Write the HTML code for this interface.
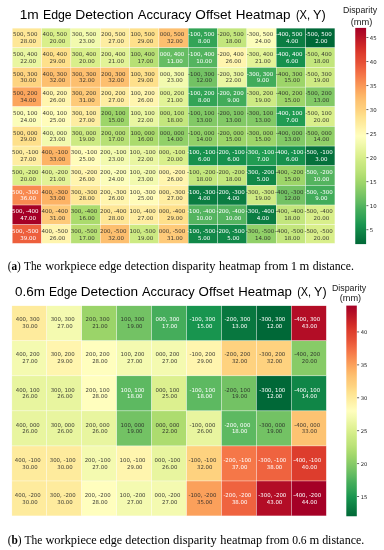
<!DOCTYPE html>
<html lang="en"><head><meta charset="utf-8"><title>Edge Detection Accuracy Offset Heatmaps</title>
<style>html,body{margin:0;padding:0;background:#fff}svg{display:block;filter:blur(0.3px)}</style></head>
<body>
<svg width="384" height="550" viewBox="0 0 384 550">
<rect width="384" height="550" fill="#fff"/>
<g font-family="'Liberation Sans',sans-serif" fill="#000" font-size="12.6"><text transform="translate(19.74,18.65) scale(1.0894,1)">1m</text> <text transform="translate(42.94,18.65) scale(0.9792,1)">Edge</text> <text transform="translate(75.17,18.65) scale(1.0992,1)">Detection</text> <text transform="translate(137.7,18.65) scale(1.0364,1)">Accuracy</text> <text transform="translate(195.36,18.65) scale(1.0781,1)">Offset</text> <text transform="translate(235.75,18.65) scale(1.0699,1)">Heatmap</text> <text transform="translate(295.88,18.65) scale(0.8855,1)">(X,</text> <text transform="translate(313.1,18.65) scale(1.0127,1)">Y)</text></g>
<g font-family="'Liberation Sans',sans-serif" fill="#000" font-size="12.3"><text transform="translate(15.08,296) scale(1.0941,1)">0.6m</text> <text transform="translate(49.05,296) scale(0.9840,1)">Edge</text> <text transform="translate(80.67,296) scale(1.1046,1)">Detection</text> <text transform="translate(142.02,296) scale(1.0415,1)">Accuracy</text> <text transform="translate(198.59,296) scale(1.0834,1)">Offset</text> <text transform="translate(238.2,296) scale(1.0752,1)">Heatmap</text> <text transform="translate(297.19,296) scale(0.8898,1)">(X,</text> <text transform="translate(314.09,296) scale(1.0177,1)">Y)</text></g>
<g font-family="'Liberation Sans',sans-serif" fill="#1a1a1a" font-size="8.6"><text transform="translate(342.91,12.9) scale(1.0220,1)">Disparity</text></g>
<g font-family="'Liberation Sans',sans-serif" fill="#1a1a1a" font-size="8.6"><text transform="translate(350.66,24.6) scale(1.0829,1)">(mm)</text></g>
<g font-family="'Liberation Sans',sans-serif" fill="#1a1a1a" font-size="8.4"><text transform="translate(331.91,290.7) scale(1.0526,1)">Disparity</text></g>
<g font-family="'Liberation Sans',sans-serif" fill="#1a1a1a" font-size="8.4"><text transform="translate(339.67,301.3) scale(1.0980,1)">(mm)</text></g>
<g font-family="'Liberation Serif',serif" fill="#000" font-size="11.7"><text transform="translate(7.65,270.2) scale(0.9647,1)">(<tspan font-weight="bold">a</tspan>)</text> <text transform="translate(24.07,270.2) scale(0.9577,1)">The</text> <text transform="translate(45.25,270.2) scale(1.0491,1)">workpiece</text> <text transform="translate(98.88,270.2) scale(1.0250,1)">edge</text> <text transform="translate(124.62,270.2) scale(1.0349,1)">detection</text> <text transform="translate(172.11,270.2) scale(1.0597,1)">disparity</text> <text transform="translate(219.1,270.2) scale(1.0518,1)">heatmap</text> <text transform="translate(264.01,270.2) scale(1.0617,1)">from</text> <text transform="translate(290.76,270.2) scale(1.0826,1)">1</text> <text transform="translate(299.4,270.2) scale(1.0712,1)">m</text> <text transform="translate(312.63,270.2) scale(1.0022,1)">distance.</text></g>
<g font-family="'Liberation Serif',serif" fill="#000" font-size="11.7"><text transform="translate(7.64,543.8) scale(0.9770,1)">(<tspan font-weight="bold">b</tspan>)</text> <text transform="translate(24.62,543.8) scale(0.9803,1)">The</text> <text transform="translate(45.46,543.8) scale(1.0551,1)">workpiece</text> <text transform="translate(99.39,543.8) scale(1.0308,1)">edge</text> <text transform="translate(125.29,543.8) scale(1.0408,1)">detection</text> <text transform="translate(173.05,543.8) scale(1.0657,1)">disparity</text> <text transform="translate(220.3,543.8) scale(1.0578,1)">heatmap</text> <text transform="translate(265.61,543.8) scale(1.0438,1)">from</text> <text transform="translate(292.14,543.8) scale(0.9946,1)">0.6</text> <text transform="translate(309.4,543.8) scale(1.0712,1)">m</text> <text transform="translate(322.13,543.8) scale(1.0209,1)">distance.</text></g>
<clipPath id="cg1"><rect x="0" y="0" width="384" height="243.2"/></clipPath>
<g clip-path="url(#cg1)" stroke="#fff" stroke-opacity="0.8" stroke-width="0.38"><rect x="12.25" y="28.15" width="29.33" height="19.65" fill="#fee797"/>
<rect x="41.58" y="28.15" width="29.33" height="19.65" fill="#d9ef8b"/>
<rect x="70.91" y="28.15" width="29.33" height="19.65" fill="#f2faae"/>
<rect x="100.25" y="28.15" width="29.33" height="19.65" fill="#feeda1"/>
<rect x="129.58" y="28.15" width="29.33" height="19.65" fill="#fee08b"/>
<rect x="158.91" y="28.15" width="29.33" height="19.65" fill="#fdbf6f"/>
<rect x="188.24" y="28.15" width="29.33" height="19.65" fill="#33a456"/>
<rect x="217.57" y="28.15" width="29.33" height="19.65" fill="#c3e67d"/>
<rect x="246.9" y="28.15" width="29.33" height="19.65" fill="#fbfdba"/>
<rect x="276.24" y="28.15" width="29.33" height="19.65" fill="#0b7d42"/>
<rect x="305.57" y="28.15" width="29.33" height="19.65" fill="#006837"/>
<rect x="12.25" y="47.8" width="29.33" height="19.65" fill="#e9f6a1"/>
<rect x="41.58" y="47.8" width="29.33" height="19.65" fill="#fee08b"/>
<rect x="70.91" y="47.8" width="29.33" height="19.65" fill="#d9ef8b"/>
<rect x="100.25" y="47.8" width="29.33" height="19.65" fill="#e2f397"/>
<rect x="129.58" y="47.8" width="29.33" height="19.65" fill="#b7e075"/>
<rect x="158.91" y="47.8" width="29.33" height="19.65" fill="#66bd63"/>
<rect x="188.24" y="47.8" width="29.33" height="19.65" fill="#54b45f"/>
<rect x="217.57" y="47.8" width="29.33" height="19.65" fill="#fff5ae"/>
<rect x="246.9" y="47.8" width="29.33" height="19.65" fill="#e2f397"/>
<rect x="276.24" y="47.8" width="29.33" height="19.65" fill="#16914d"/>
<rect x="305.57" y="47.8" width="29.33" height="19.65" fill="#c3e67d"/>
<rect x="12.25" y="67.46" width="29.33" height="19.65" fill="#fed481"/>
<rect x="41.58" y="67.46" width="29.33" height="19.65" fill="#fdbf6f"/>
<rect x="70.91" y="67.46" width="29.33" height="19.65" fill="#fdbf6f"/>
<rect x="100.25" y="67.46" width="29.33" height="19.65" fill="#fdbf6f"/>
<rect x="129.58" y="67.46" width="29.33" height="19.65" fill="#fee08b"/>
<rect x="158.91" y="67.46" width="29.33" height="19.65" fill="#f2faae"/>
<rect x="188.24" y="67.46" width="29.33" height="19.65" fill="#73c264"/>
<rect x="217.57" y="67.46" width="29.33" height="19.65" fill="#e9f6a1"/>
<rect x="246.9" y="67.46" width="29.33" height="19.65" fill="#42ac5a"/>
<rect x="276.24" y="67.46" width="29.33" height="19.65" fill="#9dd569"/>
<rect x="305.57" y="67.46" width="29.33" height="19.65" fill="#cdea83"/>
<rect x="12.25" y="87.11" width="29.33" height="19.65" fill="#fca55d"/>
<rect x="41.58" y="87.11" width="29.33" height="19.65" fill="#fff5ae"/>
<rect x="70.91" y="87.11" width="29.33" height="19.65" fill="#feca79"/>
<rect x="100.25" y="87.11" width="29.33" height="19.65" fill="#feeda1"/>
<rect x="129.58" y="87.11" width="29.33" height="19.65" fill="#fff5ae"/>
<rect x="158.91" y="87.11" width="29.33" height="19.65" fill="#e2f397"/>
<rect x="188.24" y="87.11" width="29.33" height="19.65" fill="#33a456"/>
<rect x="217.57" y="87.11" width="29.33" height="19.65" fill="#42ac5a"/>
<rect x="246.9" y="87.11" width="29.33" height="19.65" fill="#cdea83"/>
<rect x="276.24" y="87.11" width="29.33" height="19.65" fill="#9dd569"/>
<rect x="305.57" y="87.11" width="29.33" height="19.65" fill="#82c966"/>
<rect x="12.25" y="106.77" width="29.33" height="19.65" fill="#fbfdba"/>
<rect x="41.58" y="106.77" width="29.33" height="19.65" fill="#fffcba"/>
<rect x="70.91" y="106.77" width="29.33" height="19.65" fill="#feeda1"/>
<rect x="100.25" y="106.77" width="29.33" height="19.65" fill="#9dd569"/>
<rect x="129.58" y="106.77" width="29.33" height="19.65" fill="#e9f6a1"/>
<rect x="158.91" y="106.77" width="29.33" height="19.65" fill="#c3e67d"/>
<rect x="188.24" y="106.77" width="29.33" height="19.65" fill="#82c966"/>
<rect x="217.57" y="106.77" width="29.33" height="19.65" fill="#82c966"/>
<rect x="246.9" y="106.77" width="29.33" height="19.65" fill="#82c966"/>
<rect x="276.24" y="106.77" width="29.33" height="19.65" fill="#219c52"/>
<rect x="305.57" y="106.77" width="29.33" height="19.65" fill="#d9ef8b"/>
<rect x="12.25" y="126.42" width="29.33" height="19.65" fill="#fee08b"/>
<rect x="41.58" y="126.42" width="29.33" height="19.65" fill="#f2faae"/>
<rect x="70.91" y="126.42" width="29.33" height="19.65" fill="#cdea83"/>
<rect x="100.25" y="126.42" width="29.33" height="19.65" fill="#b7e075"/>
<rect x="129.58" y="126.42" width="29.33" height="19.65" fill="#abdb6d"/>
<rect x="158.91" y="126.42" width="29.33" height="19.65" fill="#91d068"/>
<rect x="188.24" y="126.42" width="29.33" height="19.65" fill="#91d068"/>
<rect x="217.57" y="126.42" width="29.33" height="19.65" fill="#9dd569"/>
<rect x="246.9" y="126.42" width="29.33" height="19.65" fill="#9dd569"/>
<rect x="276.24" y="126.42" width="29.33" height="19.65" fill="#82c966"/>
<rect x="305.57" y="126.42" width="29.33" height="19.65" fill="#91d068"/>
<rect x="12.25" y="146.08" width="29.33" height="19.65" fill="#feeda1"/>
<rect x="41.58" y="146.08" width="29.33" height="19.65" fill="#fdb365"/>
<rect x="70.91" y="146.08" width="29.33" height="19.65" fill="#fffcba"/>
<rect x="100.25" y="146.08" width="29.33" height="19.65" fill="#f2faae"/>
<rect x="129.58" y="146.08" width="29.33" height="19.65" fill="#e9f6a1"/>
<rect x="158.91" y="146.08" width="29.33" height="19.65" fill="#d9ef8b"/>
<rect x="188.24" y="146.08" width="29.33" height="19.65" fill="#16914d"/>
<rect x="217.57" y="146.08" width="29.33" height="19.65" fill="#16914d"/>
<rect x="246.9" y="146.08" width="29.33" height="19.65" fill="#219c52"/>
<rect x="276.24" y="146.08" width="29.33" height="19.65" fill="#16914d"/>
<rect x="305.57" y="146.08" width="29.33" height="19.65" fill="#05713c"/>
<rect x="12.25" y="165.73" width="29.33" height="19.65" fill="#d9ef8b"/>
<rect x="41.58" y="165.73" width="29.33" height="19.65" fill="#e2f397"/>
<rect x="70.91" y="165.73" width="29.33" height="19.65" fill="#fff5ae"/>
<rect x="100.25" y="165.73" width="29.33" height="19.65" fill="#fbfdba"/>
<rect x="129.58" y="165.73" width="29.33" height="19.65" fill="#f2faae"/>
<rect x="158.91" y="165.73" width="29.33" height="19.65" fill="#fff5ae"/>
<rect x="188.24" y="165.73" width="29.33" height="19.65" fill="#c3e67d"/>
<rect x="217.57" y="165.73" width="29.33" height="19.65" fill="#c3e67d"/>
<rect x="246.9" y="165.73" width="29.33" height="19.65" fill="#118848"/>
<rect x="276.24" y="165.73" width="29.33" height="19.65" fill="#9dd569"/>
<rect x="305.57" y="165.73" width="29.33" height="19.65" fill="#54b45f"/>
<rect x="12.25" y="185.39" width="29.33" height="19.65" fill="#f88950"/>
<rect x="41.58" y="185.39" width="29.33" height="19.65" fill="#fdb365"/>
<rect x="70.91" y="185.39" width="29.33" height="19.65" fill="#fee797"/>
<rect x="100.25" y="185.39" width="29.33" height="19.65" fill="#fff5ae"/>
<rect x="129.58" y="185.39" width="29.33" height="19.65" fill="#fffcba"/>
<rect x="158.91" y="185.39" width="29.33" height="19.65" fill="#feeda1"/>
<rect x="188.24" y="185.39" width="29.33" height="19.65" fill="#0b7d42"/>
<rect x="217.57" y="185.39" width="29.33" height="19.65" fill="#0b7d42"/>
<rect x="246.9" y="185.39" width="29.33" height="19.65" fill="#cdea83"/>
<rect x="276.24" y="185.39" width="29.33" height="19.65" fill="#73c264"/>
<rect x="305.57" y="185.39" width="29.33" height="19.65" fill="#42ac5a"/>
<rect x="12.25" y="205.04" width="29.33" height="19.65" fill="#a50026"/>
<rect x="41.58" y="205.04" width="29.33" height="19.65" fill="#feca79"/>
<rect x="70.91" y="205.04" width="29.33" height="19.65" fill="#abdb6d"/>
<rect x="100.25" y="205.04" width="29.33" height="19.65" fill="#fee797"/>
<rect x="129.58" y="205.04" width="29.33" height="19.65" fill="#feeda1"/>
<rect x="158.91" y="205.04" width="29.33" height="19.65" fill="#fee08b"/>
<rect x="188.24" y="205.04" width="29.33" height="19.65" fill="#54b45f"/>
<rect x="217.57" y="205.04" width="29.33" height="19.65" fill="#54b45f"/>
<rect x="246.9" y="205.04" width="29.33" height="19.65" fill="#0b7d42"/>
<rect x="276.24" y="205.04" width="29.33" height="19.65" fill="#c3e67d"/>
<rect x="305.57" y="205.04" width="29.33" height="19.65" fill="#d9ef8b"/>
<rect x="12.25" y="224.7" width="29.33" height="19.65" fill="#ed5f3c"/>
<rect x="41.58" y="224.7" width="29.33" height="19.65" fill="#fff5ae"/>
<rect x="70.91" y="224.7" width="29.33" height="19.65" fill="#b7e075"/>
<rect x="100.25" y="224.7" width="29.33" height="19.65" fill="#fdbf6f"/>
<rect x="129.58" y="224.7" width="29.33" height="19.65" fill="#cdea83"/>
<rect x="158.91" y="224.7" width="29.33" height="19.65" fill="#feca79"/>
<rect x="188.24" y="224.7" width="29.33" height="19.65" fill="#118848"/>
<rect x="217.57" y="224.7" width="29.33" height="19.65" fill="#118848"/>
<rect x="246.9" y="224.7" width="29.33" height="19.65" fill="#91d068"/>
<rect x="276.24" y="224.7" width="29.33" height="19.65" fill="#c3e67d"/>
<rect x="305.57" y="224.7" width="29.33" height="19.65" fill="#d9ef8b"/></g>
<g font-family="'DejaVu Sans','Liberation Sans',sans-serif" font-size="5.5" text-anchor="middle" fill="#262626" fill-opacity="0.88"><text x="25.32" y="36.38">500, 500</text><text x="28.12" y="42.98">28.00</text>
<text x="54.65" y="36.38">400, 500</text><text x="57.45" y="42.98">20.00</text>
<text x="83.98" y="36.38">300, 500</text><text x="86.78" y="42.98">23.00</text>
<text x="113.31" y="36.38">200, 500</text><text x="116.11" y="42.98">27.00</text>
<text x="142.64" y="36.38">100, 500</text><text x="145.44" y="42.98">29.00</text>
<text x="171.97" y="36.38">000, 500</text><text x="174.77" y="42.98">32.00</text>
<text x="230.64" y="36.38">-200, 500</text><text x="233.44" y="42.98">18.00</text>
<text x="259.97" y="36.38">-300, 500</text><text x="262.77" y="42.98">24.00</text>
<text x="25.32" y="56.03">500, 400</text><text x="28.12" y="62.63">22.00</text>
<text x="54.65" y="56.03">400, 400</text><text x="57.45" y="62.63">29.00</text>
<text x="83.98" y="56.03">300, 400</text><text x="86.78" y="62.63">20.00</text>
<text x="113.31" y="56.03">200, 400</text><text x="116.11" y="62.63">21.00</text>
<text x="142.64" y="56.03">100, 400</text><text x="145.44" y="62.63">17.00</text>
<text x="230.64" y="56.03">-200, 400</text><text x="233.44" y="62.63">26.00</text>
<text x="259.97" y="56.03">-300, 400</text><text x="262.77" y="62.63">21.00</text>
<text x="318.63" y="56.03">-500, 400</text><text x="321.43" y="62.63">18.00</text>
<text x="25.32" y="75.69">500, 300</text><text x="28.12" y="82.29">30.00</text>
<text x="54.65" y="75.69">400, 300</text><text x="57.45" y="82.29">32.00</text>
<text x="83.98" y="75.69">300, 300</text><text x="86.78" y="82.29">32.00</text>
<text x="113.31" y="75.69">200, 300</text><text x="116.11" y="82.29">32.00</text>
<text x="142.64" y="75.69">100, 300</text><text x="145.44" y="82.29">29.00</text>
<text x="171.97" y="75.69">000, 300</text><text x="174.77" y="82.29">23.00</text>
<text x="201.31" y="75.69">-100, 300</text><text x="204.11" y="82.29">12.00</text>
<text x="230.64" y="75.69">-200, 300</text><text x="233.44" y="82.29">22.00</text>
<text x="289.3" y="75.69">-400, 300</text><text x="292.1" y="82.29">15.00</text>
<text x="318.63" y="75.69">-500, 300</text><text x="321.43" y="82.29">19.00</text>
<text x="25.32" y="95.34">500, 200</text><text x="28.12" y="101.94">34.00</text>
<text x="54.65" y="95.34">400, 200</text><text x="57.45" y="101.94">26.00</text>
<text x="83.98" y="95.34">300, 200</text><text x="86.78" y="101.94">31.00</text>
<text x="113.31" y="95.34">200, 200</text><text x="116.11" y="101.94">27.00</text>
<text x="142.64" y="95.34">100, 200</text><text x="145.44" y="101.94">26.00</text>
<text x="171.97" y="95.34">000, 200</text><text x="174.77" y="101.94">21.00</text>
<text x="259.97" y="95.34">-300, 200</text><text x="262.77" y="101.94">19.00</text>
<text x="289.3" y="95.34">-400, 200</text><text x="292.1" y="101.94">15.00</text>
<text x="318.63" y="95.34">-500, 200</text><text x="321.43" y="101.94">13.00</text>
<text x="25.32" y="115">500, 100</text><text x="28.12" y="121.6">24.00</text>
<text x="54.65" y="115">400, 100</text><text x="57.45" y="121.6">25.00</text>
<text x="83.98" y="115">300, 100</text><text x="86.78" y="121.6">27.00</text>
<text x="113.31" y="115">200, 100</text><text x="116.11" y="121.6">15.00</text>
<text x="142.64" y="115">100, 100</text><text x="145.44" y="121.6">22.00</text>
<text x="171.97" y="115">000, 100</text><text x="174.77" y="121.6">18.00</text>
<text x="201.31" y="115">-100, 100</text><text x="204.11" y="121.6">13.00</text>
<text x="230.64" y="115">-200, 100</text><text x="233.44" y="121.6">13.00</text>
<text x="259.97" y="115">-300, 100</text><text x="262.77" y="121.6">13.00</text>
<text x="318.63" y="115">-500, 100</text><text x="321.43" y="121.6">20.00</text>
<text x="25.32" y="134.65">500, 000</text><text x="28.12" y="141.25">29.00</text>
<text x="54.65" y="134.65">400, 000</text><text x="57.45" y="141.25">23.00</text>
<text x="83.98" y="134.65">300, 000</text><text x="86.78" y="141.25">19.00</text>
<text x="113.31" y="134.65">200, 000</text><text x="116.11" y="141.25">17.00</text>
<text x="142.64" y="134.65">100, 000</text><text x="145.44" y="141.25">16.00</text>
<text x="171.97" y="134.65">000, 000</text><text x="174.77" y="141.25">14.00</text>
<text x="201.31" y="134.65">-100, 000</text><text x="204.11" y="141.25">14.00</text>
<text x="230.64" y="134.65">-200, 000</text><text x="233.44" y="141.25">15.00</text>
<text x="259.97" y="134.65">-300, 000</text><text x="262.77" y="141.25">15.00</text>
<text x="289.3" y="134.65">-400, 000</text><text x="292.1" y="141.25">13.00</text>
<text x="318.63" y="134.65">-500, 000</text><text x="321.43" y="141.25">14.00</text>
<text x="25.32" y="154.3">500, -100</text><text x="28.12" y="160.9">27.00</text>
<text x="54.65" y="154.3">400, -100</text><text x="57.45" y="160.9">33.00</text>
<text x="83.98" y="154.3">300, -100</text><text x="86.78" y="160.9">25.00</text>
<text x="113.31" y="154.3">200, -100</text><text x="116.11" y="160.9">23.00</text>
<text x="142.64" y="154.3">100, -100</text><text x="145.44" y="160.9">22.00</text>
<text x="171.97" y="154.3">000, -100</text><text x="174.77" y="160.9">20.00</text>
<text x="25.32" y="173.96">500, -200</text><text x="28.12" y="180.56">20.00</text>
<text x="54.65" y="173.96">400, -200</text><text x="57.45" y="180.56">21.00</text>
<text x="83.98" y="173.96">300, -200</text><text x="86.78" y="180.56">26.00</text>
<text x="113.31" y="173.96">200, -200</text><text x="116.11" y="180.56">24.00</text>
<text x="142.64" y="173.96">100, -200</text><text x="145.44" y="180.56">23.00</text>
<text x="171.97" y="173.96">000, -200</text><text x="174.77" y="180.56">26.00</text>
<text x="201.31" y="173.96">-100, -200</text><text x="204.11" y="180.56">18.00</text>
<text x="230.64" y="173.96">-200, -200</text><text x="233.44" y="180.56">18.00</text>
<text x="289.3" y="173.96">-400, -200</text><text x="292.1" y="180.56">15.00</text>
<text x="54.65" y="193.61">400, -300</text><text x="57.45" y="200.21">33.00</text>
<text x="83.98" y="193.61">300, -300</text><text x="86.78" y="200.21">28.00</text>
<text x="113.31" y="193.61">200, -300</text><text x="116.11" y="200.21">26.00</text>
<text x="142.64" y="193.61">100, -300</text><text x="145.44" y="200.21">25.00</text>
<text x="171.97" y="193.61">000, -300</text><text x="174.77" y="200.21">27.00</text>
<text x="259.97" y="193.61">-300, -300</text><text x="262.77" y="200.21">19.00</text>
<text x="289.3" y="193.61">-400, -300</text><text x="292.1" y="200.21">12.00</text>
<text x="54.65" y="213.27">400, -400</text><text x="57.45" y="219.87">31.00</text>
<text x="83.98" y="213.27">300, -400</text><text x="86.78" y="219.87">16.00</text>
<text x="113.31" y="213.27">200, -400</text><text x="116.11" y="219.87">28.00</text>
<text x="142.64" y="213.27">100, -400</text><text x="145.44" y="219.87">27.00</text>
<text x="171.97" y="213.27">000, -400</text><text x="174.77" y="219.87">29.00</text>
<text x="289.3" y="213.27">-400, -400</text><text x="292.1" y="219.87">18.00</text>
<text x="318.63" y="213.27">-500, -400</text><text x="321.43" y="219.87">20.00</text>
<text x="54.65" y="232.92">400, -500</text><text x="57.45" y="239.52">26.00</text>
<text x="83.98" y="232.92">300, -500</text><text x="86.78" y="239.52">17.00</text>
<text x="113.31" y="232.92">200, -500</text><text x="116.11" y="239.52">32.00</text>
<text x="142.64" y="232.92">100, -500</text><text x="145.44" y="239.52">19.00</text>
<text x="171.97" y="232.92">000, -500</text><text x="174.77" y="239.52">31.00</text>
<text x="259.97" y="232.92">-300, -500</text><text x="262.77" y="239.52">14.00</text>
<text x="289.3" y="232.92">-400, -500</text><text x="292.1" y="239.52">18.00</text>
<text x="318.63" y="232.92">-500, -500</text><text x="321.43" y="239.52">20.00</text></g>
<g font-family="'DejaVu Sans','Liberation Sans',sans-serif" font-size="5.5" text-anchor="middle" fill="#fff"><text x="201.31" y="36.38">-100, 500</text><text x="204.11" y="42.98">8.00</text>
<text x="289.3" y="36.38">-400, 500</text><text x="292.1" y="42.98">4.00</text>
<text x="318.63" y="36.38">-500, 500</text><text x="321.43" y="42.98">2.00</text>
<text x="171.97" y="56.03">000, 400</text><text x="174.77" y="62.63">11.00</text>
<text x="201.31" y="56.03">-100, 400</text><text x="204.11" y="62.63">10.00</text>
<text x="289.3" y="56.03">-400, 400</text><text x="292.1" y="62.63">6.00</text>
<text x="259.97" y="75.69">-300, 300</text><text x="262.77" y="82.29">9.00</text>
<text x="201.31" y="95.34">-100, 200</text><text x="204.11" y="101.94">8.00</text>
<text x="230.64" y="95.34">-200, 200</text><text x="233.44" y="101.94">9.00</text>
<text x="289.3" y="115">-400, 100</text><text x="292.1" y="121.6">7.00</text>
<text x="201.31" y="154.3">-100, -100</text><text x="204.11" y="160.9">6.00</text>
<text x="230.64" y="154.3">-200, -100</text><text x="233.44" y="160.9">6.00</text>
<text x="259.97" y="154.3">-300, -100</text><text x="262.77" y="160.9">7.00</text>
<text x="289.3" y="154.3">-400, -100</text><text x="292.1" y="160.9">6.00</text>
<text x="318.63" y="154.3">-500, -100</text><text x="321.43" y="160.9">3.00</text>
<text x="259.97" y="173.96">-300, -200</text><text x="262.77" y="180.56">5.00</text>
<text x="318.63" y="173.96">-500, -200</text><text x="321.43" y="180.56">10.00</text>
<text x="25.32" y="193.61">500, -300</text><text x="28.12" y="200.21">36.00</text>
<text x="201.31" y="193.61">-100, -300</text><text x="204.11" y="200.21">4.00</text>
<text x="230.64" y="193.61">-200, -300</text><text x="233.44" y="200.21">4.00</text>
<text x="318.63" y="193.61">-500, -300</text><text x="321.43" y="200.21">9.00</text>
<text x="25.32" y="213.27">500, -400</text><text x="28.12" y="219.87">47.00</text>
<text x="201.31" y="213.27">-100, -400</text><text x="204.11" y="219.87">10.00</text>
<text x="230.64" y="213.27">-200, -400</text><text x="233.44" y="219.87">10.00</text>
<text x="259.97" y="213.27">-300, -400</text><text x="262.77" y="219.87">4.00</text>
<text x="25.32" y="232.92">500, -500</text><text x="28.12" y="239.52">39.00</text>
<text x="201.31" y="232.92">-100, -500</text><text x="204.11" y="239.52">5.00</text>
<text x="230.64" y="232.92">-200, -500</text><text x="233.44" y="239.52">5.00</text></g>
<defs><linearGradient id="g1" x1="0" y1="0" x2="0" y2="1"><stop offset="0" stop-color="#a50026"/><stop offset="0.03" stop-color="#b30d26"/><stop offset="0.06" stop-color="#c21c27"/><stop offset="0.09" stop-color="#d22b27"/><stop offset="0.12" stop-color="#dd3d2d"/><stop offset="0.16" stop-color="#e65036"/><stop offset="0.19" stop-color="#ef633f"/><stop offset="0.22" stop-color="#f57748"/><stop offset="0.25" stop-color="#f88c51"/><stop offset="0.28" stop-color="#fba05b"/><stop offset="0.31" stop-color="#fdb365"/><stop offset="0.34" stop-color="#fdc372"/><stop offset="0.38" stop-color="#fed27f"/><stop offset="0.41" stop-color="#fee18d"/><stop offset="0.44" stop-color="#feeb9d"/><stop offset="0.47" stop-color="#fff5ae"/><stop offset="0.5" stop-color="#fffebe"/><stop offset="0.53" stop-color="#f4fab0"/><stop offset="0.56" stop-color="#e8f59f"/><stop offset="0.59" stop-color="#dcf08f"/><stop offset="0.62" stop-color="#cdea83"/><stop offset="0.66" stop-color="#bde379"/><stop offset="0.69" stop-color="#addc6f"/><stop offset="0.72" stop-color="#9bd469"/><stop offset="0.75" stop-color="#87cb67"/><stop offset="0.78" stop-color="#73c264"/><stop offset="0.81" stop-color="#5db961"/><stop offset="0.84" stop-color="#45ad5b"/><stop offset="0.88" stop-color="#2da155"/><stop offset="0.91" stop-color="#18954f"/><stop offset="0.94" stop-color="#108647"/><stop offset="0.97" stop-color="#08773f"/><stop offset="1" stop-color="#006837"/></linearGradient></defs>
<rect x="355.25" y="27.9" width="10.85" height="216.2" fill="url(#g1)"/>
<g stroke="#222" stroke-width="0.7"><line x1="366.4" x2="368.4" y1="229.69" y2="229.69"/><line x1="366.4" x2="368.4" y1="205.66" y2="205.66"/><line x1="366.4" x2="368.4" y1="181.64" y2="181.64"/><line x1="366.4" x2="368.4" y1="157.62" y2="157.62"/><line x1="366.4" x2="368.4" y1="133.6" y2="133.6"/><line x1="366.4" x2="368.4" y1="109.58" y2="109.58"/><line x1="366.4" x2="368.4" y1="85.55" y2="85.55"/><line x1="366.4" x2="368.4" y1="61.53" y2="61.53"/><line x1="366.4" x2="368.4" y1="37.51" y2="37.51"/></g>
<g font-family="'DejaVu Sans','Liberation Sans',sans-serif" font-size="5.4" fill="#1a1a1a"><text x="369.8" y="231.96">5</text><text x="369.8" y="207.94">10</text><text x="369.8" y="183.91">15</text><text x="369.8" y="159.89">20</text><text x="369.8" y="135.87">25</text><text x="369.8" y="111.85">30</text><text x="369.8" y="87.82">35</text><text x="369.8" y="63.8">40</text><text x="369.8" y="39.78">45</text></g>
<clipPath id="cg2"><rect x="0" y="0" width="384" height="515.65"/></clipPath>
<g clip-path="url(#cg2)" stroke="#fff" stroke-opacity="0.8" stroke-width="0.38"><rect x="11.9" y="305.8" width="34.93" height="35.04" fill="#feeb9d"/>
<rect x="46.83" y="305.8" width="34.93" height="35.04" fill="#f4fab0"/>
<rect x="81.77" y="305.8" width="34.93" height="35.04" fill="#9bd469"/>
<rect x="116.7" y="305.8" width="34.93" height="35.04" fill="#73c264"/>
<rect x="151.63" y="305.8" width="34.93" height="35.04" fill="#45ad5b"/>
<rect x="186.57" y="305.8" width="34.93" height="35.04" fill="#18954f"/>
<rect x="221.5" y="305.8" width="34.93" height="35.04" fill="#08773f"/>
<rect x="256.43" y="305.8" width="34.93" height="35.04" fill="#006837"/>
<rect x="291.37" y="305.8" width="34.93" height="35.04" fill="#b30d26"/>
<rect x="11.9" y="340.84" width="34.93" height="35.04" fill="#f4fab0"/>
<rect x="46.83" y="340.84" width="34.93" height="35.04" fill="#fff5ae"/>
<rect x="81.77" y="340.84" width="34.93" height="35.04" fill="#fffebe"/>
<rect x="116.7" y="340.84" width="34.93" height="35.04" fill="#f4fab0"/>
<rect x="151.63" y="340.84" width="34.93" height="35.04" fill="#f4fab0"/>
<rect x="186.57" y="340.84" width="34.93" height="35.04" fill="#fff5ae"/>
<rect x="221.5" y="340.84" width="34.93" height="35.04" fill="#fed27f"/>
<rect x="256.43" y="340.84" width="34.93" height="35.04" fill="#fed27f"/>
<rect x="291.37" y="340.84" width="34.93" height="35.04" fill="#87cb67"/>
<rect x="11.9" y="375.88" width="34.93" height="35.04" fill="#e8f59f"/>
<rect x="46.83" y="375.88" width="34.93" height="35.04" fill="#e8f59f"/>
<rect x="81.77" y="375.88" width="34.93" height="35.04" fill="#fffebe"/>
<rect x="116.7" y="375.88" width="34.93" height="35.04" fill="#5db961"/>
<rect x="151.63" y="375.88" width="34.93" height="35.04" fill="#dcf08f"/>
<rect x="186.57" y="375.88" width="34.93" height="35.04" fill="#5db961"/>
<rect x="221.5" y="375.88" width="34.93" height="35.04" fill="#73c264"/>
<rect x="256.43" y="375.88" width="34.93" height="35.04" fill="#006837"/>
<rect x="291.37" y="375.88" width="34.93" height="35.04" fill="#108647"/>
<rect x="11.9" y="410.92" width="34.93" height="35.04" fill="#e8f59f"/>
<rect x="46.83" y="410.92" width="34.93" height="35.04" fill="#e8f59f"/>
<rect x="81.77" y="410.92" width="34.93" height="35.04" fill="#e8f59f"/>
<rect x="116.7" y="410.92" width="34.93" height="35.04" fill="#73c264"/>
<rect x="151.63" y="410.92" width="34.93" height="35.04" fill="#addc6f"/>
<rect x="186.57" y="410.92" width="34.93" height="35.04" fill="#e8f59f"/>
<rect x="221.5" y="410.92" width="34.93" height="35.04" fill="#5db961"/>
<rect x="256.43" y="410.92" width="34.93" height="35.04" fill="#73c264"/>
<rect x="291.37" y="410.92" width="34.93" height="35.04" fill="#fdc372"/>
<rect x="11.9" y="445.97" width="34.93" height="35.04" fill="#feeb9d"/>
<rect x="46.83" y="445.97" width="34.93" height="35.04" fill="#feeb9d"/>
<rect x="81.77" y="445.97" width="34.93" height="35.04" fill="#f4fab0"/>
<rect x="116.7" y="445.97" width="34.93" height="35.04" fill="#fff5ae"/>
<rect x="151.63" y="445.97" width="34.93" height="35.04" fill="#e8f59f"/>
<rect x="186.57" y="445.97" width="34.93" height="35.04" fill="#fed27f"/>
<rect x="221.5" y="445.97" width="34.93" height="35.04" fill="#f57748"/>
<rect x="256.43" y="445.97" width="34.93" height="35.04" fill="#ef633f"/>
<rect x="291.37" y="445.97" width="34.93" height="35.04" fill="#dd3d2d"/>
<rect x="11.9" y="481.01" width="34.93" height="35.04" fill="#feeb9d"/>
<rect x="46.83" y="481.01" width="34.93" height="35.04" fill="#feeb9d"/>
<rect x="81.77" y="481.01" width="34.93" height="35.04" fill="#fffebe"/>
<rect x="116.7" y="481.01" width="34.93" height="35.04" fill="#f4fab0"/>
<rect x="151.63" y="481.01" width="34.93" height="35.04" fill="#f4fab0"/>
<rect x="186.57" y="481.01" width="34.93" height="35.04" fill="#fba05b"/>
<rect x="221.5" y="481.01" width="34.93" height="35.04" fill="#ef633f"/>
<rect x="256.43" y="481.01" width="34.93" height="35.04" fill="#b30d26"/>
<rect x="291.37" y="481.01" width="34.93" height="35.04" fill="#a50026"/></g>
<g font-family="'DejaVu Sans','Liberation Sans',sans-serif" font-size="5.4" text-anchor="middle" fill="#262626" fill-opacity="0.88"><text x="27.77" y="321.22">400, 300</text><text x="30.02" y="327.82">30.00</text>
<text x="62.7" y="321.22">300, 300</text><text x="64.95" y="327.82">27.00</text>
<text x="97.63" y="321.22">200, 300</text><text x="99.88" y="327.82">21.00</text>
<text x="132.57" y="321.22">100, 300</text><text x="134.82" y="327.82">19.00</text>
<text x="27.77" y="356.41">400, 200</text><text x="30.02" y="363.01">27.00</text>
<text x="62.7" y="356.41">300, 200</text><text x="64.95" y="363.01">29.00</text>
<text x="97.63" y="356.41">200, 200</text><text x="99.88" y="363.01">28.00</text>
<text x="132.57" y="356.41">100, 200</text><text x="134.82" y="363.01">27.00</text>
<text x="167.5" y="356.41">000, 200</text><text x="169.75" y="363.01">27.00</text>
<text x="202.43" y="356.41">-100, 200</text><text x="204.68" y="363.01">29.00</text>
<text x="237.37" y="356.41">-200, 200</text><text x="239.62" y="363.01">32.00</text>
<text x="272.3" y="356.41">-300, 200</text><text x="274.55" y="363.01">32.00</text>
<text x="307.23" y="356.41">-400, 200</text><text x="309.48" y="363.01">20.00</text>
<text x="27.77" y="391.6">400, 100</text><text x="30.02" y="398.2">26.00</text>
<text x="62.7" y="391.6">300, 100</text><text x="64.95" y="398.2">26.00</text>
<text x="97.63" y="391.6">200, 100</text><text x="99.88" y="398.2">28.00</text>
<text x="167.5" y="391.6">000, 100</text><text x="169.75" y="398.2">25.00</text>
<text x="237.37" y="391.6">-200, 100</text><text x="239.62" y="398.2">19.00</text>
<text x="27.77" y="426.8">400, 000</text><text x="30.02" y="433.4">26.00</text>
<text x="62.7" y="426.8">300, 000</text><text x="64.95" y="433.4">26.00</text>
<text x="97.63" y="426.8">200, 000</text><text x="99.88" y="433.4">26.00</text>
<text x="132.57" y="426.8">100, 000</text><text x="134.82" y="433.4">19.00</text>
<text x="167.5" y="426.8">000, 000</text><text x="169.75" y="433.4">22.00</text>
<text x="202.43" y="426.8">-100, 000</text><text x="204.68" y="433.4">26.00</text>
<text x="272.3" y="426.8">-300, 000</text><text x="274.55" y="433.4">19.00</text>
<text x="307.23" y="426.8">-400, 000</text><text x="309.48" y="433.4">33.00</text>
<text x="27.77" y="461.99">400, -100</text><text x="30.02" y="468.59">30.00</text>
<text x="62.7" y="461.99">300, -100</text><text x="64.95" y="468.59">30.00</text>
<text x="97.63" y="461.99">200, -100</text><text x="99.88" y="468.59">27.00</text>
<text x="132.57" y="461.99">100, -100</text><text x="134.82" y="468.59">29.00</text>
<text x="167.5" y="461.99">000, -100</text><text x="169.75" y="468.59">26.00</text>
<text x="202.43" y="461.99">-100, -100</text><text x="204.68" y="468.59">32.00</text>
<text x="27.77" y="497.18">400, -200</text><text x="30.02" y="503.78">30.00</text>
<text x="62.7" y="497.18">300, -200</text><text x="64.95" y="503.78">30.00</text>
<text x="97.63" y="497.18">200, -200</text><text x="99.88" y="503.78">28.00</text>
<text x="132.57" y="497.18">100, -200</text><text x="134.82" y="503.78">27.00</text>
<text x="167.5" y="497.18">000, -200</text><text x="169.75" y="503.78">27.00</text>
<text x="202.43" y="497.18">-100, -200</text><text x="204.68" y="503.78">35.00</text></g>
<g font-family="'DejaVu Sans','Liberation Sans',sans-serif" font-size="5.4" text-anchor="middle" fill="#fff"><text x="167.5" y="321.22">000, 300</text><text x="169.75" y="327.82">17.00</text>
<text x="202.43" y="321.22">-100, 300</text><text x="204.68" y="327.82">15.00</text>
<text x="237.37" y="321.22">-200, 300</text><text x="239.62" y="327.82">13.00</text>
<text x="272.3" y="321.22">-300, 300</text><text x="274.55" y="327.82">12.00</text>
<text x="307.23" y="321.22">-400, 300</text><text x="309.48" y="327.82">43.00</text>
<text x="132.57" y="391.6">100, 100</text><text x="134.82" y="398.2">18.00</text>
<text x="202.43" y="391.6">-100, 100</text><text x="204.68" y="398.2">18.00</text>
<text x="272.3" y="391.6">-300, 100</text><text x="274.55" y="398.2">12.00</text>
<text x="307.23" y="391.6">-400, 100</text><text x="309.48" y="398.2">14.00</text>
<text x="237.37" y="426.8">-200, 000</text><text x="239.62" y="433.4">18.00</text>
<text x="237.37" y="461.99">-200, -100</text><text x="239.62" y="468.59">37.00</text>
<text x="272.3" y="461.99">-300, -100</text><text x="274.55" y="468.59">38.00</text>
<text x="307.23" y="461.99">-400, -100</text><text x="309.48" y="468.59">40.00</text>
<text x="237.37" y="497.18">-200, -200</text><text x="239.62" y="503.78">38.00</text>
<text x="272.3" y="497.18">-300, -200</text><text x="274.55" y="503.78">43.00</text>
<text x="307.23" y="497.18">-400, -200</text><text x="309.48" y="503.78">44.00</text></g>
<defs><linearGradient id="g2" x1="0" y1="0" x2="0" y2="1"><stop offset="0" stop-color="#a50026"/><stop offset="0.03" stop-color="#b30d26"/><stop offset="0.06" stop-color="#c21c27"/><stop offset="0.09" stop-color="#d22b27"/><stop offset="0.12" stop-color="#dd3d2d"/><stop offset="0.16" stop-color="#e65036"/><stop offset="0.19" stop-color="#ef633f"/><stop offset="0.22" stop-color="#f57748"/><stop offset="0.25" stop-color="#f88c51"/><stop offset="0.28" stop-color="#fba05b"/><stop offset="0.31" stop-color="#fdb365"/><stop offset="0.34" stop-color="#fdc372"/><stop offset="0.38" stop-color="#fed27f"/><stop offset="0.41" stop-color="#fee18d"/><stop offset="0.44" stop-color="#feeb9d"/><stop offset="0.47" stop-color="#fff5ae"/><stop offset="0.5" stop-color="#fffebe"/><stop offset="0.53" stop-color="#f4fab0"/><stop offset="0.56" stop-color="#e8f59f"/><stop offset="0.59" stop-color="#dcf08f"/><stop offset="0.62" stop-color="#cdea83"/><stop offset="0.66" stop-color="#bde379"/><stop offset="0.69" stop-color="#addc6f"/><stop offset="0.72" stop-color="#9bd469"/><stop offset="0.75" stop-color="#87cb67"/><stop offset="0.78" stop-color="#73c264"/><stop offset="0.81" stop-color="#5db961"/><stop offset="0.84" stop-color="#45ad5b"/><stop offset="0.88" stop-color="#2da155"/><stop offset="0.91" stop-color="#18954f"/><stop offset="0.94" stop-color="#108647"/><stop offset="0.97" stop-color="#08773f"/><stop offset="1" stop-color="#006837"/></linearGradient></defs>
<rect x="346.3" y="305.6" width="10.5" height="210.65" fill="url(#g2)"/>
<g stroke="#222" stroke-width="0.7"><line x1="357.1" x2="359.1" y1="496.5" y2="496.5"/><line x1="357.1" x2="359.1" y1="463.59" y2="463.59"/><line x1="357.1" x2="359.1" y1="430.67" y2="430.67"/><line x1="357.1" x2="359.1" y1="397.76" y2="397.76"/><line x1="357.1" x2="359.1" y1="364.85" y2="364.85"/><line x1="357.1" x2="359.1" y1="331.93" y2="331.93"/></g>
<g font-family="'DejaVu Sans','Liberation Sans',sans-serif" font-size="5.2" fill="#1a1a1a"><text x="360.7" y="498.7">15</text><text x="360.7" y="465.79">20</text><text x="360.7" y="432.87">25</text><text x="360.7" y="399.96">30</text><text x="360.7" y="367.04">35</text><text x="360.7" y="334.13">40</text></g>
</svg>
</body></html>
